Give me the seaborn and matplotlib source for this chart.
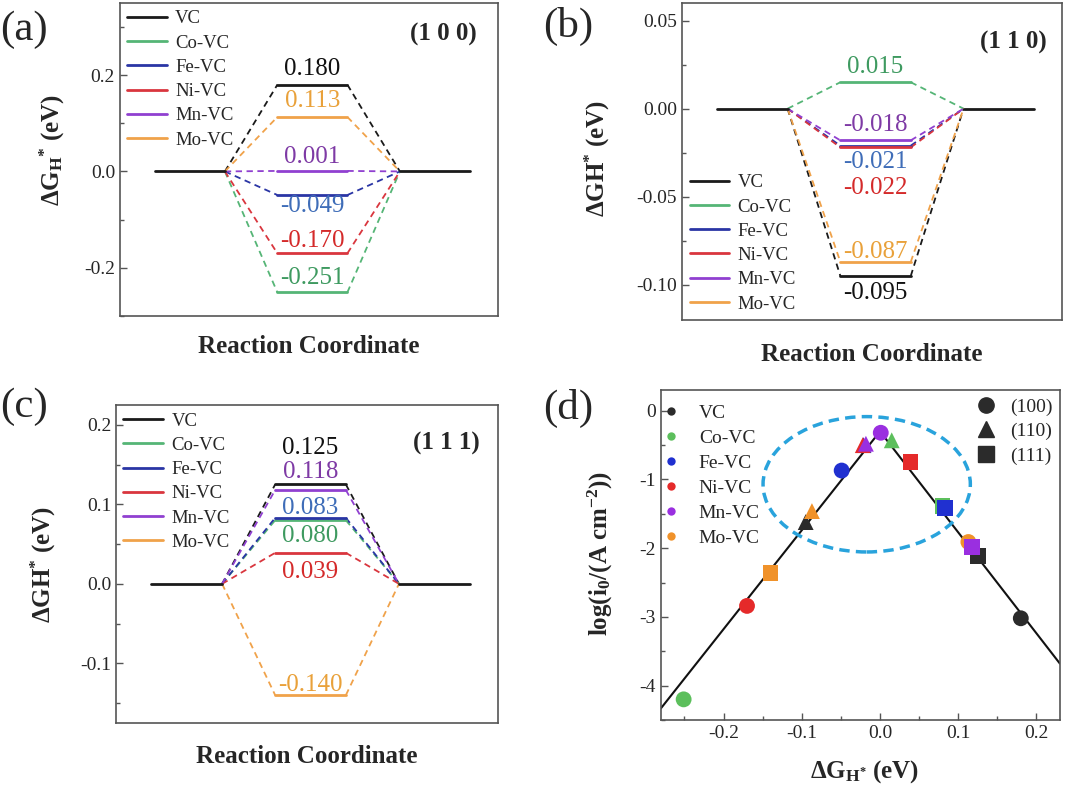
import numpy as np
import pandas as pd
import matplotlib
matplotlib.use('Agg')
import matplotlib.pyplot as plt
from matplotlib.lines import Line2D
from matplotlib.patches import Ellipse
from matplotlib.ticker import MultipleLocator
import seaborn as sns

systems = ['VC', 'Co-VC', 'Fe-VC', 'Ni-VC', 'Mn-VC', 'Mo-VC']
dg_100 = [0.180, -0.251, -0.049, -0.170, 0.001, 0.113]
dg_110 = [-0.095, 0.015, -0.021, -0.022, -0.018, -0.087]
dg_111 = [0.125, 0.080, 0.083, 0.039, 0.118, -0.140]

# exchange current density, panel d
facets = ['(100)', '(110)', '(111)']
logi_100 = [-3.02, -4.20, -0.87, -2.84, -0.32, -1.91]
logi_110 = [-1.62, -0.43, -0.50, -0.50, -0.48, -1.46]
logi_111 = [-2.11, -1.38, -1.42, -0.74, -1.98, -2.36]

# volcano fit line
volcano_x = [-0.28, 0.0, 0.23]
volcano_y = [-4.33, -0.30, -3.68]

line_colors = dict(zip(systems, ['#1a1a1a', '#55b576', '#2a35a5', '#d9363e', '#9040d0', '#f0a24a']))
text_colors = dict(zip(systems, ['#111111', '#3e9a60', '#3f6db8', '#d42a2a', '#7e3aa5', '#e9a13a']))
marker_colors = dict(zip(systems, ['#2b2b2b', '#5cbf5c', '#2030d0', '#e52a2a', '#9a2fe0', '#f0922a']))
marker_map = {'(100)': 'o', '(110)': '^', '(111)': 's'}

sns.set_theme(style='ticks')
plt.rcParams['font.family'] = ['Liberation Serif', 'DejaVu Serif']
plt.rcParams['mathtext.fontset'] = 'custom'
plt.rcParams['mathtext.rm'] = 'Liberation Serif'
plt.rcParams['mathtext.bf'] = 'Liberation Serif:bold'
plt.rcParams['mathtext.it'] = 'Liberation Serif:italic'
plt.rcParams['axes.unicode_minus'] = False


def style_box(ax):
    for sp in ax.spines.values():
        sp.set_color('#555555')
        sp.set_linewidth(1.2)


def energy_panel(ax, values, offsets, ylim, major, minor, facet, facet_xy,
                 legend_loc, ylab, ylab_xy, xlab_y):
    conn = pd.DataFrame({'system': np.repeat(systems, 4),
                         'seg': [0, 0, 1, 1] * len(systems),
                         'x': [1.0, 1.75, 2.75, 3.5] * len(systems),
                         'y': [y for v in values for y in (0, v, v, 0)]})
    lev = pd.DataFrame({'system': np.repeat(systems, 2),
                        'x': [1.75, 2.75] * len(systems),
                        'y': np.repeat(values, 2)})
    base = pd.DataFrame({'seg': [0, 0, 1, 1], 'x': [0, 1, 3.5, 4.5], 'y': [0, 0, 0, 0]})

    sns.lineplot(data=conn, x='x', y='y', hue='system', hue_order=systems, units='seg',
                 estimator=None, sort=False, palette=line_colors, lw=1.3,
                 linestyle=(0, (3.5, 2.5)), legend=False, ax=ax)
    sns.lineplot(data=base, x='x', y='y', units='seg', estimator=None, sort=False,
                 color=line_colors['VC'], lw=2, ax=ax)
    sns.lineplot(data=lev, x='x', y='y', hue='system', hue_order=systems,
                 estimator=None, sort=False, palette=line_colors, lw=2,
                 legend=False, ax=ax)

    for name, v, off in zip(systems, values, offsets):
        ax.annotate(f'{v:.3f}', (2.25, v), xytext=(0, off), textcoords='offset points',
                    ha='center', va='center', fontsize=18, color=text_colors[name])

    ax.text(*facet_xy, facet, transform=ax.transAxes, ha='right', va='center',
            fontsize=18, fontweight='bold')

    handles = [Line2D([], [], color=line_colors[s], lw=2) for s in systems]
    ax.legend(handles, systems, loc=legend_loc, frameon=False, fontsize=13.5,
              handlelength=2.1, handletextpad=0.45, labelspacing=0.38,
              borderaxespad=0.2, borderpad=0.2)

    ax.set_xlim(-0.5, 4.9)
    ax.set_ylim(*ylim)
    ax.set_xticks([])
    ax.yaxis.set_major_locator(MultipleLocator(major))
    ax.yaxis.set_minor_locator(MultipleLocator(minor))
    ax.tick_params(axis='y', which='major', direction='in', length=5, width=1,
                   labelsize=14, color='#555555')
    ax.tick_params(axis='y', which='minor', direction='in', length=3, width=1,
                   color='#555555')
    ax.set_ylabel(ylab, fontsize=18, fontweight='bold')
    ax.yaxis.set_label_coords(*ylab_xy)
    ax.set_xlabel('Reaction Coordinate', fontsize=18, fontweight='bold')
    ax.xaxis.set_label_coords(0.5, xlab_y)
    style_box(ax)


fig = plt.figure(figsize=(10.8, 7.89), dpi=100)
ax_a = fig.add_axes([0.111, 0.5995, 0.350, 0.397])
ax_b = fig.add_axes([0.6315, 0.5944, 0.3519, 0.4018])
ax_c = fig.add_axes([0.1074, 0.0837, 0.3537, 0.403])
ax_d = fig.add_axes([0.612, 0.0875, 0.3694, 0.418])

energy_panel(ax_a, dg_100, [11.5, 10, -8, 8.6, 10, 11.5], (-0.3, 0.35), 0.2, 0.1,
             '(1 0 0)', (0.944, 0.898), 'upper left',
             r'$\mathbf{\Delta G_{H}{}^{*}}$ (eV)', (-0.14, 0.53), -0.06)
energy_panel(ax_b, dg_110, [-12.5, 11, -12, -29, 11, 7], (-0.12, 0.06), 0.05, 0.025,
             '(1 1 0)', (0.96, 0.877), 'lower left',
             r'$\mathbf{\Delta GH^{*}}$ (eV)', (-0.184, 0.51), -0.073)
energy_panel(ax_c, dg_111, [26, -11.5, 7, -14, 13, 7], (-0.175, 0.225), 0.1, 0.05,
             '(1 1 1)', (0.953, 0.88), 'upper left',
             r'$\mathbf{\Delta GH^{*}}$ (eV)', (-0.152, 0.497), -0.069)

# panel d: volcano plot
pts = pd.DataFrame({'system': systems * 3,
                    'facet': np.repeat(['(110)', '(100)', '(111)'], len(systems)),
                    'dg': dg_110 + dg_100 + dg_111,
                    'logi': logi_110 + logi_100 + logi_111})
sns.lineplot(x=volcano_x, y=volcano_y, estimator=None, sort=False, color='#111111',
             lw=1.5, ax=ax_d)
sns.scatterplot(data=pts, x='dg', y='logi', hue='system', style='facet',
                markers=marker_map, palette=marker_colors, s=130, edgecolor='none',
                legend=False, zorder=3, ax=ax_d)
ax_d.add_patch(Ellipse((-0.017, -1.07), 0.265, 1.97, fill=False, ls=(0, (3, 1.8)),
                       lw=2.5, ec='#29a3dc', zorder=4))

h1 = [Line2D([], [], ls='', marker='o', ms=6, mfc=marker_colors[s], mec='none') for s in systems]
leg1 = ax_d.legend(h1, systems, loc='upper left', bbox_to_anchor=(0.0, 0.97),
                   frameon=False, fontsize=14, handlelength=0.6, handletextpad=1.15,
                   labelspacing=0.38, borderaxespad=0, borderpad=0.2)
ax_d.add_artist(leg1)
h2 = [Line2D([], [], ls='', marker=marker_map[f], ms=11, color='#2b2b2b') for f in facets]
ax_d.legend(h2, facets, loc='upper right', frameon=False, fontsize=14,
            handlelength=1.0, handletextpad=0.7, labelspacing=0.36,
            borderaxespad=0.1, borderpad=0.3)

ax_d.set_xlim(-0.28, 0.23)
ax_d.set_ylim(-4.5, 0.3)
ax_d.xaxis.set_major_locator(MultipleLocator(0.1))
ax_d.xaxis.set_minor_locator(MultipleLocator(0.05))
ax_d.yaxis.set_major_locator(MultipleLocator(1))
ax_d.yaxis.set_minor_locator(MultipleLocator(0.5))
ax_d.tick_params(which='major', direction='in', length=5, width=1, labelsize=14,
                 color='#555555')
ax_d.tick_params(which='minor', direction='in', length=3, width=1, color='#555555')
ax_d.set_xlabel(r'$\mathbf{\Delta G_{H^{*}}}$ (eV)', fontsize=18, fontweight='bold')
ax_d.xaxis.set_label_coords(0.51, -0.115)
ax_d.set_ylabel(r'$\mathbf{log(i_{0}/(A\ cm^{-2}))}$', fontsize=18, fontweight='bold')
ax_d.yaxis.set_label_coords(-0.115, 0.506)
style_box(ax_d)

for lab, x, y in [('(a)', 0.0, 0.962), ('(b)', 0.503, 0.967),
                  ('(c)', 0.0, 0.485), ('(d)', 0.503, 0.482)]:
    fig.text(x, y, lab, fontsize=31, ha='left', va='center')

fig.savefig('out.png', dpi=100)
